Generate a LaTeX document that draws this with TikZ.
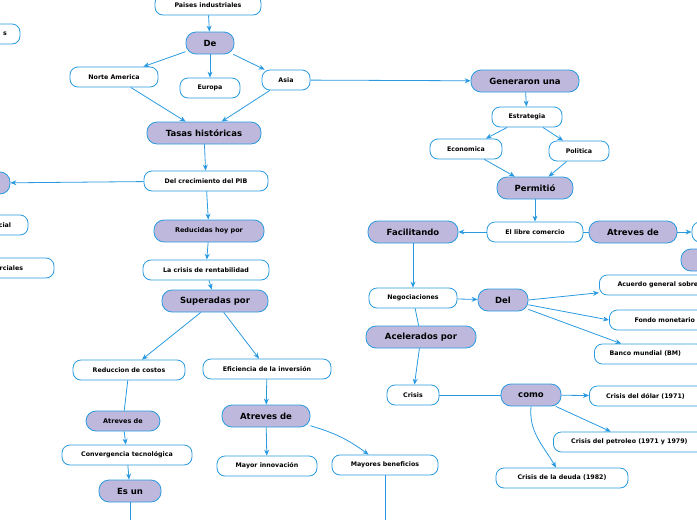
\documentclass[tikz,border=0pt]{standalone}
\usepackage{fontspec}
\setmainfont{DejaVu Sans}
\usetikzlibrary{arrows.meta}
\definecolor{azul}{HTML}{2A9AE0}
\definecolor{lila}{HTML}{BDB8DC}
\tikzset{
  hoja/.style={draw=azul, thick, fill=white, rounded corners=8pt, minimum height=20pt,
    font=\fontsize{6.3}{7}\selectfont\bfseries, inner xsep=2pt},
  enlace/.style={draw=azul, thick, fill=lila, rounded corners=10pt, minimum height=22pt,
    font=\fontsize{8.5}{10}\selectfont\bfseries, inner xsep=2pt},
  flecha/.style={azul, thick, -{Stealth[length=6pt,width=5pt]}},
  trazo/.style={azul, thick}
}
\begin{document}
\begin{tikzpicture}[x=1pt,y=-1pt]
\useasboundingbox (0,0) rectangle (697,520);
\clip (0,0) rectangle (697,520);
% columna izquierda
\node[hoja, minimum width=106pt] (paises) at (208,5) {Paises industriales};
\node[hoja, minimum width=60pt] (izq1) at (-10,34) {\hspace*{30pt}s};
\node[enlace, minimum width=48pt] (de) at (210,43) {De};
\node[hoja, minimum width=88pt] (norte) at (114,77) {Norte America};
\node[hoja, minimum width=60pt] (europa) at (210,88) {Europa};
\node[hoja, minimum width=48pt] (asia) at (286,80) {Asia};
\node[enlace, minimum width=114pt] (tasas) at (204,133) {Tasas históricas};
\node[hoja, minimum width=124pt] (pib) at (206,181) {Del crecimiento del PIB};
\node[enlace, minimum width=40pt] (izq2) at (-10,183) {};
\node[hoja, minimum width=80pt] (izq3) at (-12,225) {\hspace*{34pt}cial};
\node[hoja, minimum width=110pt] (izq4) at (-1,268) {\hspace*{14pt}merciales};
\node[enlace, minimum width=110pt, font=\fontsize{6.5}{8}\selectfont\bfseries] (reducidas) at (209,231) {Reducidas hoy por};
\node[hoja, minimum width=126pt] (rentab) at (206,270) {La crisis de rentabilidad};
\node[enlace, minimum width=106pt] (superadas) at (215,301) {Superadas por};
\node[hoja, minimum width=112pt] (costos) at (129,370) {Reduccion de costos};
\node[hoja, minimum width=128pt] (eficiencia) at (267,369) {Eficiencia de la inversión};
\node[enlace, minimum width=74pt, minimum height=20pt, font=\fontsize{6.5}{8}\selectfont\bfseries] (atreves1) at (123,421) {Atreves de};
\node[hoja, minimum width=130pt] (convergencia) at (127,455) {Convergencia tecnológica};
\node[enlace, minimum width=62pt] (esun) at (130,491) {Es un};
\node[enlace, minimum width=88pt] (atreves2) at (266,416) {Atreves de};
\node[hoja, minimum width=100pt] (innovacion) at (267,466) {Mayor innovación};
\node[hoja, minimum width=106pt] (beneficios) at (385,465) {Mayores beneficios};
\coordinate (finA) at (130,520);
\coordinate (finB) at (385,520);
% columna derecha
\node[enlace, minimum width=108pt] (generaron) at (525,81) {Generaron una};
\node[hoja, minimum width=70pt] (estrategia) at (527,117) {Estrategia};
\node[hoja, minimum width=72pt] (economica) at (466,149) {Economica};
\node[hoja, minimum width=60pt] (politica) at (579,151) {Politica};
\node[enlace, minimum width=76pt] (permitio) at (535,188) {Permitió};
\node[hoja, minimum width=96pt] (libre) at (535,232) {El libre comercio};
\node[enlace, minimum width=90pt] (facilitando) at (413,232) {Facilitando};
\node[enlace, minimum width=88pt] (atreves3) at (633,232) {Atreves de};
\node[hoja, minimum width=40pt] (der1) at (712,232) {};
\node[enlace, minimum width=60pt] (der2) at (711,260) {};
\node[hoja, minimum width=150pt, anchor=west] (acuerdo) at (599,285) {\hspace*{10pt}Acuerdo general sobre el comercio};
\node[hoja, minimum width=88pt] (negociaciones) at (413,298) {Negociaciones};
\node[enlace, minimum width=50pt] (del) at (503,300) {Del};
\node[hoja, minimum width=150pt, anchor=west] (fondo) at (609,320) {\hspace*{10pt}Fondo monetario Internacional};
\node[hoja, minimum width=110pt, anchor=west] (banco) at (594,354) {Banco mundial (BM)\hspace*{8pt}};
\node[enlace, minimum width=110pt] (acelerados) at (421,337) {Acelerados por};
\node[hoja, minimum width=52pt] (crisis) at (413,395) {Crisis};
\node[enlace, minimum width=60pt] (como) at (531,395) {como};
\node[hoja, minimum width=120pt, anchor=west] (dolar) at (589,396) {Crisis del dólar (1971)\hspace*{8pt}};
\node[hoja, minimum width=160pt, anchor=west] (petroleo) at (553,442) {Crisis del petroleo (1971 y 1979)\hspace*{8pt}};
\node[hoja, minimum width=132pt] (deuda) at (562,478) {Crisis de la deuda (1982)};
% conectores
\draw[flecha] (paises) -- (de);
\draw[flecha] (de) -- (norte);
\draw[flecha] (de) -- (europa);
\draw[flecha] (de) -- (asia);
\draw[flecha] (norte) -- (tasas);
\draw[flecha] (asia) -- (tasas);
\draw[flecha] (asia) -- (generaron);
\draw[flecha] (tasas) -- (pib);
\draw[flecha] (pib) -- (izq2);
\draw[flecha] (pib) -- (reducidas);
\draw[flecha] (reducidas) -- (rentab);
\draw[flecha] (rentab) -- (superadas);
\draw[flecha] (superadas) -- (costos);
\draw[flecha] (superadas) -- (eficiencia);
\draw[trazo] (costos) -- (atreves1);
\draw[flecha] (atreves1) -- (convergencia);
\draw[flecha] (convergencia) -- (esun);
\draw[trazo] (esun) -- (finA);
\draw[flecha] (eficiencia) -- (atreves2);
\draw[flecha] (atreves2) -- (innovacion);
\draw[flecha] (atreves2) to[bend left=10] (beneficios);
\draw[trazo] (beneficios) -- (finB);
\draw[flecha] (generaron) -- (estrategia);
\draw[flecha] (estrategia) -- (economica);
\draw[flecha] (estrategia) -- (politica);
\draw[flecha] (economica) -- (permitio);
\draw[flecha] (politica) -- (permitio);
\draw[flecha] (permitio) -- (libre);
\draw[flecha] (libre) -- (facilitando);
\draw[trazo] (libre) -- (atreves3);
\draw[flecha] (atreves3) -- (der1);
\draw[flecha] (facilitando) -- (negociaciones);
\draw[flecha] (negociaciones) -- (del);
\draw[flecha] (del.east) -- (acuerdo);
\draw[flecha] (del) -- (fondo.west);
\draw[flecha] (del) -- (banco);
\draw[trazo] (negociaciones) -- (acelerados);
\draw[flecha] (acelerados) -- (crisis);
\draw[trazo] (crisis) -- (como);
\draw[flecha] (como) -- (dolar);
\draw[flecha] (como) -- (petroleo);
\draw[flecha] (como.south) to[out=-95, in=120] (deuda);
\end{tikzpicture}
\end{document}
